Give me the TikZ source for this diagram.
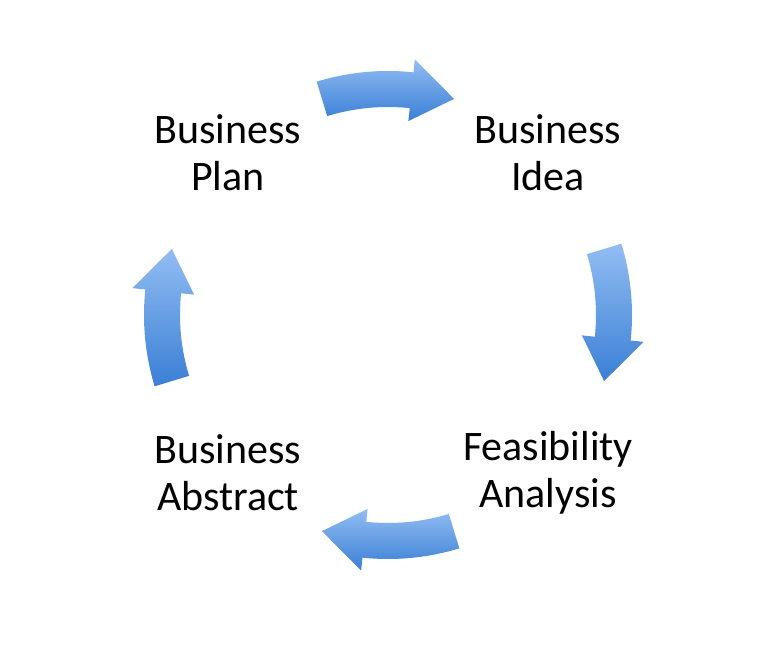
\documentclass[tikz,border=0pt]{standalone}
\usepackage{fontspec}
\setmainfont{Carlito}
\usetikzlibrary{calc}
\definecolor{lightb}{HTML}{92BDF2}
\definecolor{darkb}{HTML}{3A7FD6}
\begin{document}
\begin{tikzpicture}[x=1pt,y=1pt,
  lbl/.style={align=center,font=\fontsize{42}{47}\selectfont,text=black},
  cyc/.style={top color=lightb,bottom color=darkb,draw=none}]
\useasboundingbox (0,0) rectangle (780,645);
\coordinate (O) at (388,330);
\node[lbl] (plan) at (228,492) {Business\\Plan};
\node[lbl] (idea) at (548,492) {Business\\Idea};
\node[lbl] (feas) at (548,172) {Feasibility\\Analysis};
\node[lbl] (abs) at (228,172) {Business\\Abstract};
\foreach \c in {90,0,-90,180}{
  \pgfmathsetmacro{\aa}{\c+17}
  \pgfmathsetmacro{\ab}{\c-6}
  \pgfmathsetmacro{\ac}{\c-17}
  \path[cyc] ($(O)+(\aa:208)$) arc[start angle=\aa,end angle=\ab,radius=208]
    -- ($(O)+(\ab:195)$) -- ($(O)+(\ac:226)$) -- ($(O)+(\ab:257)$) -- ($(O)+(\ab:244)$)
    arc[start angle=\ab,end angle=\aa,radius=244] -- cycle;
}
\end{tikzpicture}
\end{document}
